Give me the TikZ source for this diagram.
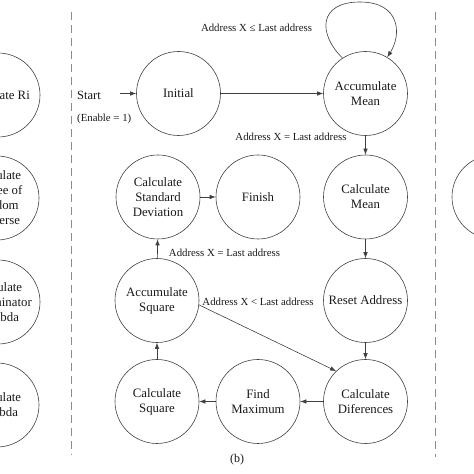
\documentclass[tikz,border=0pt]{standalone}
\usepackage{fontspec}
\setmainfont{Liberation Serif}
\usetikzlibrary{arrows.meta}
\begin{document}
\begin{tikzpicture}[x=1pt,y=1pt,
  state/.style={circle,draw=black!75,line width=0.6pt,minimum size=84pt,inner sep=0pt,
    align=center,font=\fontsize{12.8}{15}\selectfont,text=black!90},
  lbl/.style={font=\fontsize{10.8}{12}\selectfont,inner sep=0pt,text=black!90},
  conn/.style={draw=black!75,line width=0.6pt,-{Latex[length=6pt,width=4.5pt]}},
  sep/.style={draw=black!45,line width=1pt,dash pattern=on 8pt off 5pt}]
\useasboundingbox (0,0) rectangle (474,474);
\clip (0,0) rectangle (474,474);
% separators
\draw[sep] (71,462) -- (71,19);
\draw[sep] (435,462) -- (435,17);
% left partial states
\node[state] (L1) at (-2,379) {Calculate Ri};
\node[state] (L2) at (-3,276) {Calculate\\Degree of\\Random\\Universe};
\node[state] (L3) at (-2,172) {Calculate\\Denominator\\Lambda};
\node[state] (L4) at (-3,69) {Calculate\\Lambda};
% right partial state
\node[state] (R1) at (494,277) {};
% main states
\node[state] (init) at (178.5,380.5) {Initial};
\node[state] (am) at (365.5,380.5) {Accumulate\\Mean};
\node[state] (cm) at (365.5,277) {Calculate\\Mean};
\node[state] (sd) at (158,277) {Calculate\\Standard\\Deviation};
\node[state] (fin) at (258,277) {Finish};
\node[state] (as) at (157,173.5) {Accumulate\\Square};
\node[state] (ra) at (365.5,173.5) {Reset Address};
\node[state] (cs) at (157,72.5) {Calculate\\Square};
\node[state] (fm) at (258,72.5) {Find\\Maximum};
\node[state] (cd) at (365.5,72.5) {Calculate\\Diferences};
% labels
\node[lbl,anchor=west] (start) at (77,379) {\fontsize{12.5}{14}\selectfont Start};
\node[lbl,anchor=west] (en) at (77,355) {(Enable = 1)};
\coordinate (s0) at (120,380.5);
\node[lbl] (l1) at (256.5,446) {Address X ≤ Last address};
\node[lbl] (l2) at (291,337) {Address X = Last address};
\node[lbl] (l3) at (224.5,221) {Address X = Last address};
\node[lbl] (l4) at (258,172) {Address X < Last address};
\node[font=\fontsize{12}{14}\selectfont,text=black!90] (b) at (237,14) {(b)};
% connectors
\draw[conn] (s0) -- (init);
\draw[conn] (init) -- (am);
\draw[conn] (am) -- (cm);
\draw[conn] (cm) -- (ra);
\draw[conn] (ra) -- (cd);
\draw[conn] (cd) -- (fm);
\draw[conn] (fm) -- (cs);
\draw[conn] (cs) -- (as);
\draw[conn] (as) -- (sd);
\draw[conn] (sd) -- (fin);
\draw[conn] (as.-6) -- (cd.134);
\draw[conn] (am.123) .. controls (318,440) and (318,472) .. (360,472)
  .. controls (400,472) and (402,440) .. (am.59);
\end{tikzpicture}
\end{document}
